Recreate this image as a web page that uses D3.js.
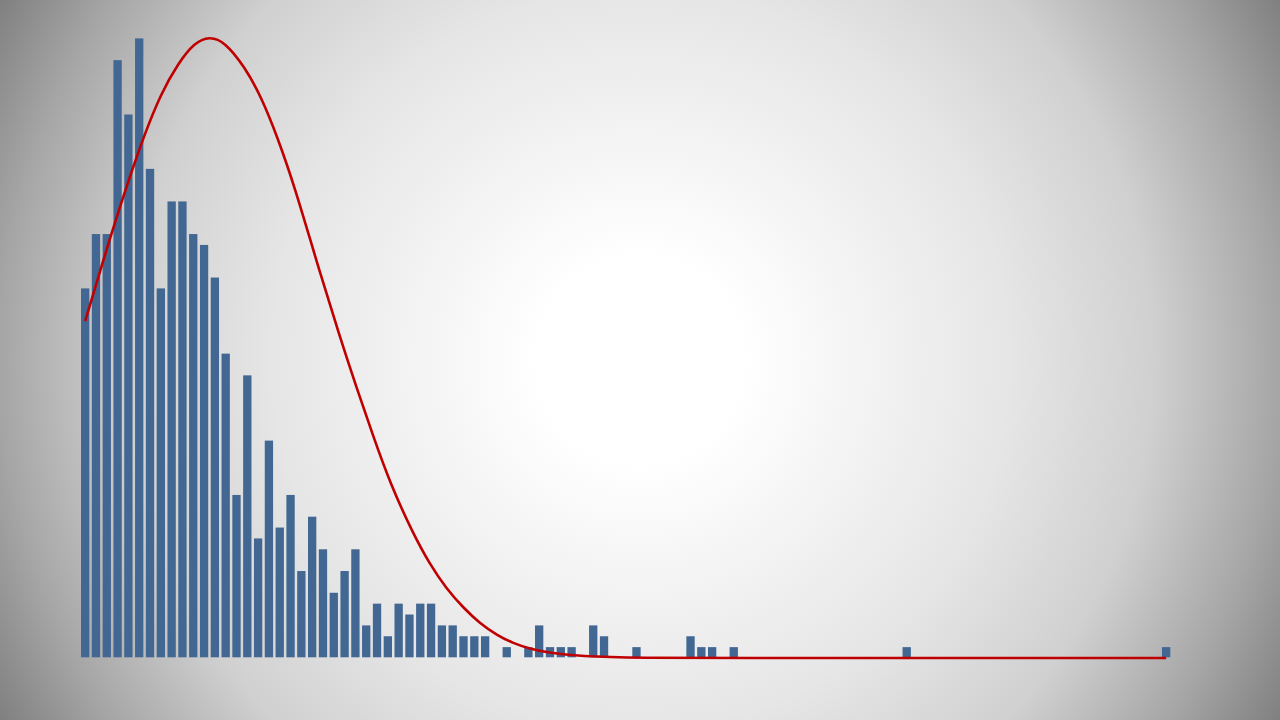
<!DOCTYPE html>
<html lang="en">
<head>
    <meta charset="UTF-8">
    <title>Histogram</title>
    <script src="https://d3js.org/d3.v7.min.js"></script>
    <style>
        html, body { margin: 0; padding: 0; overflow: hidden; }
    </style>
</head>
<body>
    <svg id="chart" width="1280" height="720"></svg>

    <script>
        // bin counts, one per bin (bin 0 .. 100)
        var counts = [34, 39, 39, 55, 50, 57, 45, 34, 42, 42,
                      39, 38, 35, 28, 15, 26, 11, 20, 12, 15,
                       8, 13, 10,  6,  8, 10,  3,  5,  2,  5,
                       4,  5,  5,  3,  3,  2,  2,  2,  0,  1,
                       0,  1,  3,  1,  1,  1,  0,  3,  2,  0,
                       0,  1,  0,  0,  0,  0,  2,  1,  1,  0,
                       1,  0,  0,  0,  0,  0,  0,  0,  0,  0,
                       0,  0,  0,  0,  0,  0,  1,  0,  0,  0,
                       0,  0,  0,  0,  0,  0,  0,  0,  0,  0,
                       0,  0,  0,  0,  0,  0,  0,  0,  0,  0,
                       1];

        // fitted curve (x = bin centre, y = count)
        var curveX = [0, 2.4, 4.0, 5.5, 7.0, 8.6, 10.1, 11.5, 12.9, 14.75,
                      16.3, 17.8, 19.4, 21.4, 23.6, 25.1, 26.65, 28.2, 30.35, 31.9,
                      33.4, 35.0, 36.5, 38.1, 39.6, 41.15, 42.7, 45.8, 51.3, 60, 80, 100];
        var curveY = [31.0, 39.0, 43.9, 48.2, 51.9, 54.7, 56.6, 57.2, 56.7, 54.4,
                      51.6, 47.9, 43.3, 36.5, 29.4, 24.9, 20.4, 16.1, 11.4, 8.6,
                      6.4, 4.6, 3.2, 2.1, 1.35, 0.85, 0.5, 0.15, 0, 0, 0, 0];

        var svg = d3.select("#chart");

        // background: white centre fading to grey at the corners
        var grad = svg.append("defs").append("radialGradient")
            .attr("id", "bg")
            .attr("gradientUnits", "userSpaceOnUse")
            .attr("cx", 640).attr("cy", 360).attr("r", 734);
        grad.selectAll("stop")
            .data([[0, "#ffffff"], [0.14, "#ffffff"], [0.5, "#e6e6e6"], [0.7, "#d0d0d0"], [0.87, "#a6a6a6"], [1, "#808080"]])
            .join("stop")
            .attr("offset", d => d[0])
            .attr("stop-color", d => d[1]);
        svg.append("rect")
            .attr("width", 1280).attr("height", 720)
            .attr("fill", "url(#bg)");

        var xScale = d3.scaleLinear().domain([0, counts.length]).range([81, 81 + counts.length * 10.81]);
        var yScale = d3.scaleLinear().domain([0, 57]).range([658, 38.4]);
        var barW = xScale(1) - xScale(0) - 2.5;

        // bars
        svg.selectAll(".bar")
            .data(counts.map((c, i) => ({i: i, c: c})).filter(d => d.c > 0))
            .join("rect")
            .classed("bar", true)
            .attr("x", d => xScale(d.i))
            .attr("y", d => yScale(d.c))
            .attr("width", barW)
            .attr("height", d => yScale(0) - 0.7 - yScale(d.c))
            .attr("fill", "#416792");

        // normal curve
        var lineGen = d3.line()
            .x(d => xScale(d[0]) + barW / 2)
            .y(d => yScale(d[1]))
            .curve(d3.curveBasis);

        svg.append("path")
            .attr("d", lineGen(curveX.map((x, i) => [x, curveY[i]])))
            .attr("fill", "none")
            .attr("stroke", "#c00000")
            .attr("stroke-width", 2.6)
            .attr("stroke-linejoin", "round");
    </script>
</body>
</html>
